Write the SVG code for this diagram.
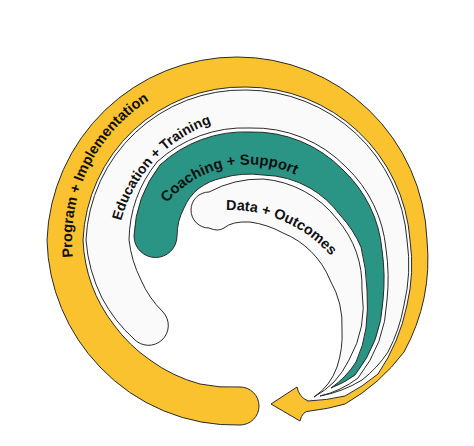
<svg xmlns="http://www.w3.org/2000/svg" width="474" height="446" viewBox="0 0 474 446">
<style>
.band{stroke:#2a2a2a;stroke-width:1;stroke-linejoin:round}
.yellow{fill:#F9C22E}
.teal{fill:#2A9584}
.white{fill:#FAFAFA}
.lbl{font-family:"Liberation Sans",Arial,Helvetica,sans-serif;font-weight:bold;fill:#111}
</style>
<defs>
<path id="tp-prog" d="M 72.9 257.2 A 165 165 0 0 1 149.6 100.1"/>
<path id="tp-edu" d="M 121 221 A 142.5 142.5 0 0 1 210 124"/>
<path id="tp-coach" d="M 167 203 A 108.4 108.4 0 0 1 296 175"/>
<path id="tp-data" d="M 226 210 A 135.6 135.6 0 0 1 331 256"/>
</defs>
<rect width="474" height="446" fill="#ffffff"/>
<g id="program-implementation">
<path class="band yellow" d="M 240 425 A 186 186 0 0 1 100 367 A 190 190 0 0 1 47 240 A 190 190 0 0 1 237 57 A 190 190 0 0 1 427 240 A 195 195 0 0 1 404 352 A 195 195 0 0 1 345 404 A 200 200 0 0 1 310 411 Q 302 411 300 421 L 271 404 L 297 387 Q 299 397 308 401 A 190 190 0 0 0 345 396 A 190 190 0 0 0 378 374 A 190 190 0 0 0 407 305 A 175 175 0 0 0 410 240 A 165 165 0 0 0 246 87 A 160 160 0 0 0 83 240 A 150 150 0 0 0 114 325 A 150 150 0 0 0 150 360 A 150 150 0 0 0 200 384 A 150 150 0 0 0 240 387 A 19 19 0 0 1 240 425 Z"/>
<text class="lbl" font-size="14.5"><textPath href="#tp-prog">Program + Implementation</textPath></text>
</g>
<g id="education-training">
<path class="band white" d="M 134 339 A 150 150 0 0 1 102 298 A 157 157 0 0 1 86 240 A 157 157 0 0 1 246 90 A 162 162 0 0 1 407 240 A 172 172 0 0 1 404 305 A 160 160 0 0 1 388 352 A 120 120 0 0 1 362 380 A 120 120 0 0 1 320 396 A 100 100 0 0 0 358 378 A 134 134 0 0 0 387 300 A 204 204 0 0 0 386 249 A 129 129 0 0 0 346 167 A 129 129 0 0 0 250 128 A 129 129 0 0 0 157 162 A 129 129 0 0 0 129 240 A 120 120 0 0 0 141 280 A 100 100 0 0 0 163 312 A 19.8 19.8 0 0 1 134 339 Z"/>
<text class="lbl" font-size="14"><textPath href="#tp-edu">Education + Training</textPath></text>
</g>
<g id="coaching-support">
<path class="band teal" d="M 134 236 A 125 125 0 0 1 160 165 A 125 125 0 0 1 250 132 A 125 125 0 0 1 343 170 A 125 125 0 0 1 382 250 A 200 200 0 0 1 383 300 A 130 130 0 0 1 355 375 A 100 100 0 0 1 331 388 A 90 90 0 0 0 356 362 A 120 120 0 0 0 366 328 A 200 200 0 0 0 367 290 A 200 200 0 0 0 361 247 A 110 110 0 0 0 340 215 A 100 100 0 0 0 310 188 A 100 100 0 0 0 263 175 A 100 100 0 0 0 222 178 A 60 60 0 0 0 198 189 A 50 50 0 0 0 184 208 A 60 60 0 0 0 177 236 A 21.5 21.5 0 0 1 134 236 Z"/>
<text class="lbl" font-size="14.8"><textPath href="#tp-coach">Coaching + Support</textPath></text>
</g>
<g id="data-outcomes">
<path class="band white" d="M 209 192 A 110 110 0 0 1 263 179 A 105 105 0 0 1 337 219 A 105 105 0 0 1 362 290 A 110 110 0 0 1 349 360 A 90 90 0 0 1 334 382 A 90 90 0 0 1 314 397 A 60 60 0 0 0 337 367 A 100 100 0 0 0 342 330 A 90 90 0 0 0 330 280 A 85 85 0 0 0 283 233 A 95 95 0 0 0 250 222 Q 232 221 224 228 Q 218 232 209 228 A 18 18 0 0 1 209 192 Z"/>
<text class="lbl" font-size="14.4"><textPath href="#tp-data">Data + Outcomes</textPath></text>
</g>
<g id="connectors"></g>
</svg>
